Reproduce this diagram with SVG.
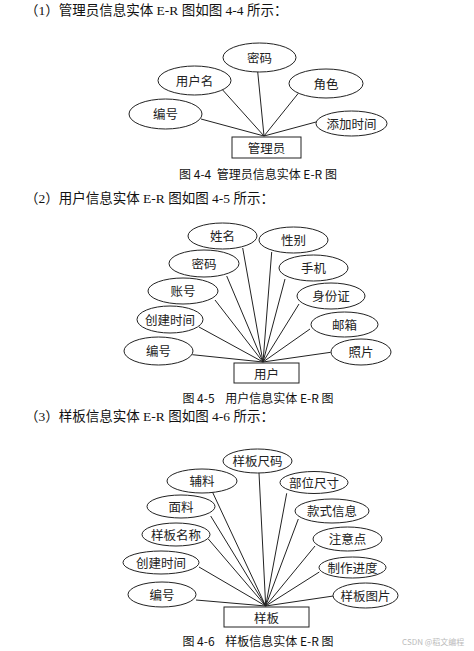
<svg xmlns="http://www.w3.org/2000/svg" width="474" height="651" viewBox="0 0 474 651">
<style>
.bg{fill:#fff}
.h{font-family:"Liberation Serif","Noto Sans CJK SC",serif;font-size:13.5px;fill:#111}
.cap{font-family:"Noto Sans CJK SC","Liberation Sans",sans-serif;font-size:12px;fill:#111;text-anchor:middle;font-weight:400;white-space:pre}
.e{fill:#fff;stroke:#222;stroke-width:1}
.r{fill:#fff;stroke:#222;stroke-width:1}
.t{font-family:"Noto Sans CJK SC","Liberation Sans",sans-serif;font-size:12.5px;fill:#222;text-anchor:middle;dominant-baseline:central}
.c line{stroke:#222;stroke-width:1}
.wm{font-family:"Noto Sans CJK SC","Liberation Sans",sans-serif;font-size:8px;fill:#bbb}
</style>
<rect class="bg" x="0" y="0" width="474" height="651"/>

<text class="h" x="25" y="15">（1）管理员信息实体 E-R 图如图 4-4 所示：</text>
<text class="h" x="25" y="203">（2）用户信息实体 E-R 图如图 4-5 所示：</text>
<text class="h" x="25" y="421">（3）样板信息实体 E-R 图如图 4-6 所示：</text>

<g id="connectors" class="c">
<line x1="257.7" y1="71.7" x2="264" y2="136"/>
<line x1="222.7" y1="90" x2="264" y2="136"/>
<line x1="298.3" y1="93.3" x2="264" y2="136"/>
<line x1="201" y1="119" x2="264" y2="136"/>
<line x1="316" y1="122" x2="264" y2="136"/>

<line x1="242.7" y1="248" x2="263" y2="362"/>
<line x1="271.7" y1="252" x2="263" y2="362"/>
<line x1="226.7" y1="276" x2="263" y2="362"/>
<line x1="285" y1="279" x2="263" y2="362"/>
<line x1="215" y1="300" x2="263" y2="362"/>
<line x1="299" y1="304" x2="263" y2="362"/>
<line x1="199" y1="327" x2="263" y2="362"/>
<line x1="310" y1="329" x2="263" y2="362"/>
<line x1="192.3" y1="354.7" x2="263" y2="362"/>
<line x1="330.7" y1="352.3" x2="263" y2="362"/>

<line x1="259" y1="473" x2="265.7" y2="606"/>
<line x1="212.3" y1="491.7" x2="265.7" y2="606"/>
<line x1="286.7" y1="493.3" x2="265.7" y2="606"/>
<line x1="210.7" y1="516" x2="265.7" y2="606"/>
<line x1="298.3" y1="519" x2="265.7" y2="606"/>
<line x1="208.3" y1="539" x2="265.7" y2="606"/>
<line x1="315" y1="546" x2="265.7" y2="606"/>
<line x1="199" y1="567" x2="265.7" y2="606"/>
<line x1="319.3" y1="572" x2="265.7" y2="606"/>
<line x1="196" y1="600" x2="265.7" y2="606"/>
<line x1="333.3" y1="596" x2="265.7" y2="606"/>
</g>

<!-- Figure 4-4 -->
<g id="admin"><rect class="r" x="232" y="137" width="69" height="21"/><text class="t" x="266.5" y="147.5">管理员</text></g>
<g id="a-mima"><ellipse class="e" cx="259.5" cy="57.5" rx="36.5" ry="14.5"/><text class="t" x="259.5" y="57">密码</text></g>
<g id="a-yonghuming"><ellipse class="e" cx="194.5" cy="80.5" rx="36.5" ry="14.5"/><text class="t" x="194.5" y="80">用户名</text></g>
<g id="a-juese"><ellipse class="e" cx="326" cy="83.5" rx="37" ry="14.5"/><text class="t" x="326" y="83">角色</text></g>
<g id="a-bianhao"><ellipse class="e" cx="165.5" cy="114" rx="36.5" ry="15"/><text class="t" x="165.5" y="113.5">编号</text></g>
<g id="a-tianjiashijian"><ellipse class="e" cx="351.5" cy="123.5" rx="35.5" ry="12.5"/><text class="t" x="351.5" y="123">添加时间</text></g>
<text class="cap" x="258" y="179" xml:space="preserve">图 4-4  管理员信息实体 E-R 图</text>

<!-- Figure 4-5 -->
<g id="user"><rect class="r" x="234" y="363" width="65" height="20"/><text class="t" x="266.5" y="373">用户</text></g>
<g id="u-xingming"><ellipse class="e" cx="222.5" cy="236" rx="34.5" ry="13"/><text class="t" x="222.5" y="235.5">姓名</text></g>
<g id="u-xingbie"><ellipse class="e" cx="293.5" cy="240" rx="34.5" ry="13"/><text class="t" x="293.5" y="239.5">性别</text></g>
<g id="u-mima"><ellipse class="e" cx="204" cy="263.5" rx="35" ry="13.5"/><text class="t" x="204" y="263">密码</text></g>
<g id="u-shouji"><ellipse class="e" cx="313.5" cy="268" rx="34.5" ry="13"/><text class="t" x="313.5" y="267.5">手机</text></g>
<g id="u-zhanghao"><ellipse class="e" cx="183" cy="291" rx="35" ry="13"/><text class="t" x="183" y="290.5">账号</text></g>
<g id="u-shenfenzheng"><ellipse class="e" cx="331" cy="296" rx="34" ry="13"/><text class="t" x="331" y="295.5">身份证</text></g>
<g id="u-chuangjianshijian"><ellipse class="e" cx="170" cy="319.5" rx="33" ry="13.5"/><text class="t" x="170" y="319">创建时间</text></g>
<g id="u-youxiang"><ellipse class="e" cx="344.5" cy="324.5" rx="33.5" ry="12.5"/><text class="t" x="344.5" y="324">邮箱</text></g>
<g id="u-bianhao"><ellipse class="e" cx="158.5" cy="351" rx="34.5" ry="14"/><text class="t" x="158.5" y="350.5">编号</text></g>
<g id="u-zhaopian"><ellipse class="e" cx="361" cy="352" rx="30" ry="13"/><text class="t" x="361" y="351.5">照片</text></g>
<text class="cap" x="258" y="403" xml:space="preserve">图 4-5    用户信息实体 E-R 图</text>

<!-- Figure 4-6 -->
<g id="sample"><rect class="r" x="224" y="607" width="85" height="20"/><text class="t" x="266.5" y="617">样板</text></g>
<g id="s-chima"><ellipse class="e" cx="257.5" cy="461" rx="34.5" ry="12"/><text class="t" x="257.5" y="460.5">样板尺码</text></g>
<g id="s-fuliao"><ellipse class="e" cx="202" cy="481" rx="35" ry="12"/><text class="t" x="202" y="480.5">辅料</text></g>
<g id="s-buweichicun"><ellipse class="e" cx="314" cy="482.5" rx="34" ry="11"/><text class="t" x="314" y="482">部位尺寸</text></g>
<g id="s-mianliao"><ellipse class="e" cx="181" cy="506.5" rx="34" ry="11.5"/><text class="t" x="181" y="506">面料</text></g>
<g id="s-kuanshixinxi"><ellipse class="e" cx="332" cy="511" rx="37" ry="12"/><text class="t" x="332" y="510.5">款式信息</text></g>
<g id="s-mingcheng"><ellipse class="e" cx="176" cy="534.5" rx="34" ry="11.5"/><text class="t" x="176" y="534">样板名称</text></g>
<g id="s-zhuyidian"><ellipse class="e" cx="347.5" cy="539" rx="34.5" ry="12"/><text class="t" x="347.5" y="538.5">注意点</text></g>
<g id="s-chuangjianshijian"><ellipse class="e" cx="161" cy="562.5" rx="38" ry="11.5"/><text class="t" x="161" y="562">创建时间</text></g>
<g id="s-zhizuojindu"><ellipse class="e" cx="352.5" cy="567.5" rx="33.5" ry="10.5"/><text class="t" x="352.5" y="567">制作进度</text></g>
<g id="s-bianhao"><ellipse class="e" cx="162" cy="594.5" rx="34" ry="12.5"/><text class="t" x="162" y="594">编号</text></g>
<g id="s-tupian"><ellipse class="e" cx="365.5" cy="595.5" rx="32.5" ry="12.5"/><text class="t" x="365.5" y="595">样板图片</text></g>
<text class="cap" x="258" y="646" xml:space="preserve">图 4-6    样板信息实体 E-R 图</text>

<text class="wm" x="402" y="645">CSDN @稻文编程</text>
</svg>
